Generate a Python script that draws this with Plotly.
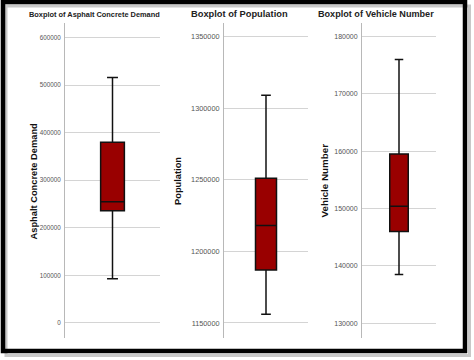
import plotly.graph_objects as go

# ---- data ----
panel_titles = ["Boxplot of Asphalt Concrete Demand", "Boxplot of Population", "Boxplot of Vehicle Number"]
axis_titles = ["Asphalt Concrete Demand", "Population", "Vehicle Number"]
lower_fence = [93000, 1156000, 138500]
q1_vals = [236000, 1187000, 146000]
median_vals = [255000, 1218000, 150400]
q3_vals = [380000, 1251000, 159500]
upper_fence = [516000, 1309000, 176000]
tick_vals = [
    [0, 100000, 200000, 300000, 400000, 500000, 600000],
    [1150000, 1200000, 1250000, 1300000, 1350000],
    [130000, 140000, 150000, 160000, 170000, 180000],
]
y_ranges = [[-31600, 631600], [1139500, 1359800], [127400, 182450]]

W, H = 474, 360
def px(x):
    return x / W
def py(y):
    return 1 - y / H

x_domains = [[px(65), px(160)], [px(224), px(308)], [px(362), px(436)]]
y_domain = [py(338), py(22.5)]
tick_sizes = [6.3, 7.3, 7]
FONT = "Liberation Sans, Arial, sans-serif"
title_sizes = [7.4, 9.3, 9.1]
title_x = [94, 239.5, 376]
ytitle_x = [33.5, 178, 323.5]
ytitle_sizes = [9.3, 9.3, 9.8]

fig = go.Figure()
for i in range(3):
    n = "" if i == 0 else str(i + 1)
    fig.add_trace(go.Box(
        x=[0], q1=[q1_vals[i]], median=[median_vals[i]], q3=[q3_vals[i]],
        lowerfence=[lower_fence[i]], upperfence=[upper_fence[i]],
        width=0.25, whiskerwidth=0.46,
        fillcolor="#990000", line=dict(color="#111", width=1.5),
        xaxis="x" + n, yaxis="y" + n, showlegend=False, hoverinfo="skip",
    ))
    fig.layout["xaxis" + n] = dict(
        domain=x_domains[i], range=[-0.5, 0.5], showgrid=False, zeroline=False,
        showticklabels=False, showline=False, anchor="y" + n, fixedrange=True,
    )
    fig.layout["yaxis" + n] = dict(
        domain=y_domain, range=y_ranges[i], anchor="x" + n,
        tickvals=tick_vals[i], ticktext=[str(v) for v in tick_vals[i]],
        showgrid=True, gridcolor="#d4d4d4", gridwidth=1,
        zeroline=False, showline=True, linecolor="#b8b8b8", linewidth=1,
        ticks="", ticklabelstandoff=2,
        tickfont=dict(family=FONT, size=tick_sizes[i], color="#555"),
        fixedrange=True,
    )
    fig.add_annotation(text="<b>%s</b>" % panel_titles[i], x=px(title_x[i]), y=py(14.5),
                       xref="paper", yref="paper", showarrow=False,
                       font=dict(family=FONT, size=title_sizes[i], color="#222"),
                       xanchor="center", yanchor="middle")
    fig.add_annotation(text="<b>%s</b>" % axis_titles[i], x=px(ytitle_x[i]), y=py(181),
                       xref="paper", yref="paper", showarrow=False, textangle=-90,
                       font=dict(family=FONT, size=ytitle_sizes[i], color="#111"),
                       xanchor="center", yanchor="middle")

# frame with drop shadow
fig.add_shape(type="rect", xref="paper", yref="paper", x0=px(6), x1=px(469.5), y0=py(355.5), y1=py(6),
              line=dict(color="#c8c8c8", width=3), layer="below")
fig.add_shape(type="rect", xref="paper", yref="paper", x0=px(3), x1=px(465), y0=py(351), y1=py(2),
              line=dict(color="#000", width=4.5))

fig.update_layout(
    width=W, height=H, margin=dict(l=0, r=0, t=0, b=0),
    paper_bgcolor="white", plot_bgcolor="white",
)
fig.write_html("out.html", config={"displayModeBar": False},
               post_script="document.body.style.margin='0';document.body.style.overflow='hidden';")
